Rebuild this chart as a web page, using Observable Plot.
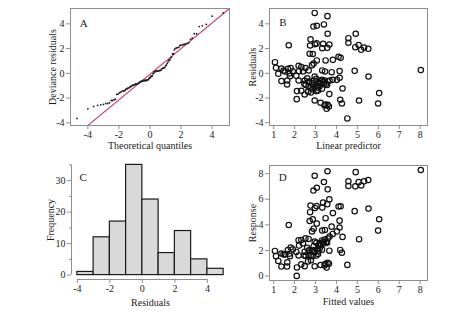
<!DOCTYPE html>
<html><head><meta charset="utf-8">
<script src="https://cdn.jsdelivr.net/npm/d3@7"></script>
<script src="https://cdn.jsdelivr.net/npm/@observablehq/plot@0.6"></script>
<style>
html,body{margin:0;padding:0;background:#fff;}
#wrap{position:relative;width:474px;height:311px;overflow:hidden;background:#fff;}
</style></head><body><div id="wrap"></div>
<script>
// ---- data ----
const linearPredictor = [2.96,3.57,2.90,3.06,3.40,3.58,4.92,1.72,2.76,2.74,2.97,3.05,3.36,3.66,3.32,3.56,4.57,4.57,4.90,5.06,5.32,5.18,5.52,2.72,2.87,3.06,3.48,3.83,4.10,4.20,
1.06,1.11,1.37,1.54,1.68,1.81,1.91,2.19,2.21,2.32,2.40,2.67,2.91,2.83,3.32,3.45,3.77,4.15,4.87,8.03,1.47,2.52,
1.22,1.75,1.78,1.65,1.64,1.37,2.08,2.19,2.46,2.70,4.15,3.82,4.02,5.53,2.48,2.53,2.67,2.83,2.91,2.96,3.04,3.07,3.20,3.24,3.31,3.35,3.40,3.43,3.51,3.59,3.67,2.60,2.88,3.15,3.55,
2.11,2.32,2.48,2.64,4.29,6.04,3.66,2.67,2.77,3.12,3.31,3.12,3.04,2.78,2.95,3.20,2.85,
2.10,5.99,5.08,4.18,4.26,3.47,3.43,3.53,3.64,3.24,2.96,3.58,4.52];
const residuals = [4.88,4.62,3.78,3.84,3.95,3.20,3.20,2.27,2.75,2.25,2.35,2.42,2.38,2.33,2.03,2.06,2.84,2.47,2.11,2.28,2.08,1.90,1.98,1.58,1.56,1.04,1.04,1.09,1.33,1.25,
0.90,0.44,0.39,0.15,0.36,0.42,0.17,0.61,0.17,0.50,0.15,0.23,0.79,0.66,0.23,0.15,0.09,0.18,0.20,0.26,0.22,0.42,
-0.04,-0.01,-0.23,-0.58,-0.90,-0.63,-0.20,-0.58,-0.85,-0.66,-0.36,-0.53,-0.53,-0.26,-0.58,-0.95,-0.71,-0.79,-0.58,-0.26,-0.44,-0.98,-0.63,-0.85,-0.53,-0.71,-0.85,-0.58,-0.85,-0.66,-0.58,-0.40,-0.95,-0.78,-0.95,
-1.44,-1.41,-1.71,-1.50,-1.23,-1.60,-1.68,-1.06,-1.17,-1.17,-1.25,-1.39,-1.44,-1.55,-1.10,-1.05,-1.30,
-2.09,-2.44,-2.20,-2.14,-2.44,-2.52,-2.60,-2.87,-2.68,-2.38,-2.20,-2.55,-3.65];
const response = [7.84,8.19,6.68,6.90,7.35,6.78,8.12,3.99,5.51,4.99,5.32,5.47,5.74,5.99,5.35,5.62,7.41,7.04,7.01,7.34,7.40,7.08,7.50,4.30,4.43,4.10,4.52,4.92,5.43,5.45,
1.96,1.55,1.76,1.69,2.04,2.23,2.08,2.80,2.38,2.82,2.55,2.90,3.70,3.49,3.55,3.60,3.86,4.33,5.07,8.29,1.69,2.94,
1.18,1.74,1.55,1.07,0.74,0.74,1.88,1.61,1.61,2.04,3.79,3.29,3.49,5.27,1.90,1.58,1.96,2.04,2.33,2.70,2.60,2.09,2.57,2.39,2.78,2.64,2.55,2.85,2.66,2.93,3.09,2.20,1.93,2.37,2.60,
0.67,0.91,0.77,1.14,3.06,4.44,1.98,1.61,1.60,1.95,2.06,1.73,1.60,1.23,1.85,2.15,1.55,
0.01,3.55,2.88,2.04,1.82,0.95,0.83,0.66,0.96,0.86,0.76,1.03,0.87];
const theoreticalQuantiles = [-4.71,-4.00,-3.63,-3.37,-3.17,-3.00,-2.85,-2.72,-2.61,-2.50,
-2.40,-2.31,-2.23,-2.14,-2.07,-1.99,-1.93,-1.86,-1.79,-1.73,
-1.67,-1.61,-1.56,-1.50,-1.45,-1.39,-1.34,-1.29,-1.24,-1.20,
-1.15,-1.10,-1.05,-1.01,-0.97,-0.92,-0.88,-0.83,-0.79,-0.75,
-0.71,-0.67,-0.63,-0.59,-0.54,-0.51,-0.46,-0.42,-0.39,-0.35,
-0.31,-0.27,-0.23,-0.19,-0.15,-0.12,-0.08,-0.04,0,
0.04,0.08,0.12,0.15,0.19,0.23,0.27,0.31,0.35,0.39,0.42,0.46,0.51,0.54,0.59,0.63,0.67,0.71,0.75,0.79,
0.83,0.88,0.92,0.97,1.01,1.05,1.10,1.15,1.20,1.24,1.29,1.34,1.39,1.45,1.50,1.56,1.61,1.67,1.73,1.79,
1.86,1.93,1.99,2.07,2.14,2.23,2.31,2.40,2.50,2.61,2.72,2.85,3.00,3.17,3.37,3.63,4.00,4.71];
const qqLineX = [-5.12, 5.12];
const qqLineY = [-5.38, 5.24];
const binStart = [-4,-3,-2,-1,0,1,2,3,4];
const binEnd   = [-3,-2,-1,0,1,2,3,4,5];
const frequency = [1,12,17,35,24,7,14,5,2];

const ticksQ = [-4,-2,0,2,4];
const ticksPred = [1,2,3,4,5,6,7,8];
const ticksResp = [0,2,4,6,8];
const ticksFreq = [0,10,20,30];
const ticksFreqMinor = [5,15,25,35];
const panelLetters = ["A","B","C","D"];
const axisTitles = {
  qqX: "Theoretical quantiles", qqY: "Deviance residuals",
  bX: "Linear predictor", bY: "Residuals",
  cX: "Residuals", cY: "Frequency",
  dX: "Fitted values", dY: "Response"
};

// ---- tables built from the arrays ----
const sortedRes = residuals.slice().sort(d3.ascending);
const qq = theoreticalQuantiles.map((q, i) => ({q, r: sortedRes[i]}));
const scatter = linearPredictor.map((x, i) => ({x, r: residuals[i], y: response[i]}));
const bins = frequency.map((n, i) => ({x1: binStart[i], x2: binEnd[i], n}));
const qqLine = qqLineX.map((x, i) => ({x, y: qqLineY[i]}));

// ---- styling ----
const FONT = "'Liberation Serif','Times New Roman',serif";
const AX = "#8e8e8e", TXT = "#1c1c1c";
const fmt = d => String(d);
const wrap = document.getElementById("wrap");
function place(svg, left, top) {
  svg.style.position = "absolute";
  svg.style.left = left + "px";
  svg.style.top = top + "px";
  wrap.appendChild(svg);
}
const baseStyle = {fontFamily: FONT, fontSize: "10px", color: TXT, background: "transparent", overflow: "visible"};
function letter(t, dx, dy) {
  return Plot.text([t], {frameAnchor: "top-left", dx, dy, textAnchor: "middle", lineAnchor: "middle", fontSize: 11, fill: TXT});
}
function xTitle(t, dy) {
  return Plot.text([t], {frameAnchor: "bottom", dy, textAnchor: "middle", lineAnchor: "middle", fontSize: 10, fill: TXT});
}
function yTitle(t, dx) {
  return Plot.text([t], {frameAnchor: "left", dx, rotate: -90, textAnchor: "middle", lineAnchor: "middle", fontSize: 10, fill: TXT});
}

// Panel A: QQ plot
place(Plot.plot({
  width: 237, height: 150,
  marginLeft: 70, marginRight: 8, marginTop: 8, marginBottom: 25,
  x: {domain: [-5.12, 5.12]},
  y: {domain: [-4.22, 5.24]},
  style: baseStyle,
  marks: [
    Plot.frame({stroke: AX}),
    Plot.axisX({ticks: ticksQ, tickFormat: fmt, tickSize: 4, tickPadding: 1, stroke: AX, fill: TXT, fontSize: 10, label: null}),
    Plot.axisY({ticks: ticksQ, tickFormat: fmt, tickSize: 4, tickPadding: 2, stroke: AX, fill: TXT, fontSize: 10, label: null}),
    Plot.line(qqLine, {x: "x", y: "y", stroke: "#c4405e", strokeWidth: 1.1, clip: true}),
    Plot.dot(qq, {x: "q", y: "r", r: 0.9, fill: "#222"}),
    letter(panelLetters[0], 13.3, 14.7),
    xTitle(axisTitles.qqX, 20.7),
    yTitle(axisTitles.qqY, -18)
  ]
}), 0, 0);

// Panel B: residuals vs linear predictor
place(Plot.plot({
  width: 237, height: 150,
  marginLeft: 32, marginRight: 47, marginTop: 8, marginBottom: 25,
  x: {domain: [0.8, 8.35]},
  y: {domain: [-4.22, 5.24]},
  style: baseStyle,
  marks: [
    Plot.frame({stroke: AX}),
    Plot.axisX({ticks: ticksPred, tickFormat: fmt, tickSize: 4, tickPadding: 1, stroke: AX, fill: TXT, fontSize: 10, label: null}),
    Plot.axisY({ticks: ticksQ, tickFormat: fmt, tickSize: 4, tickPadding: 2, stroke: AX, fill: TXT, fontSize: 10, label: null}),
    Plot.dot(scatter, {x: "x", y: "r", r: 2.7, stroke: "#111", strokeWidth: 1.2, fill: "none"}),
    letter(panelLetters[1], 13.3, 13.7),
    xTitle(axisTitles.bX, 20.7),
    yTitle(axisTitles.bY, -16.7)
  ]
}), 237, 0);

// Panel C: histogram
const cXDomain = [-4.36, 5.36], cYDomain = [-1.4, 36.4];
place(Plot.plot({
  width: 237, height: 161,
  marginLeft: 71, marginRight: 8, marginTop: 10, marginBottom: 32,
  x: {domain: cXDomain},
  y: {domain: cYDomain},
  style: baseStyle,
  marks: [
    Plot.rectY(bins, {x1: "x1", x2: "x2", y1: 0, y2: "n", fill: "#d9d9d9", stroke: "#1a1a1a", strokeWidth: 1.2}),
    Plot.ruleX([cXDomain[0]], {y1: ticksFreq[0], y2: ticksFreqMinor[ticksFreqMinor.length - 1], stroke: AX}),
    Plot.ruleY([cYDomain[0]], {x1: ticksQ[0], x2: ticksQ[ticksQ.length - 1], stroke: AX}),
    Plot.axisX({ticks: ticksQ, tickFormat: fmt, tickSize: 4, tickPadding: 1, stroke: AX, fill: TXT, fontSize: 10, label: null}),
    Plot.axisY({ticks: ticksFreq, tickFormat: fmt, tickSize: 4, tickPadding: 2, stroke: AX, fill: TXT, fontSize: 10, label: null}),
    Plot.axisY({ticks: ticksFreqMinor, tickFormat: () => "", tickSize: 2, stroke: AX, label: null}),
    letter(panelLetters[2], 11.7, 16.7),
    xTitle(axisTitles.cX, 23),
    yTitle(axisTitles.cY, -21)
  ]
}), 0, 150);

// Panel D: response vs fitted values
place(Plot.plot({
  width: 237, height: 161,
  marginLeft: 32, marginRight: 47, marginTop: 15, marginBottom: 31,
  x: {domain: [0.8, 8.35]},
  y: {domain: [-0.35, 8.64]},
  style: baseStyle,
  marks: [
    Plot.frame({stroke: AX}),
    Plot.axisX({ticks: ticksPred, tickFormat: fmt, tickSize: 4, tickPadding: 1, stroke: AX, fill: TXT, fontSize: 10, label: null}),
    Plot.axisY({ticks: ticksResp, tickFormat: fmt, tickSize: 4, tickPadding: 2, stroke: AX, fill: TXT, fontSize: 10, label: null}),
    Plot.dot(scatter, {x: "x", y: "y", r: 2.7, stroke: "#111", strokeWidth: 1.2, fill: "none"}),
    letter(panelLetters[3], 13.3, 12.3),
    xTitle(axisTitles.dX, 21.7),
    yTitle(axisTitles.dY, -16.7)
  ]
}), 237, 150);
</script></body></html>
